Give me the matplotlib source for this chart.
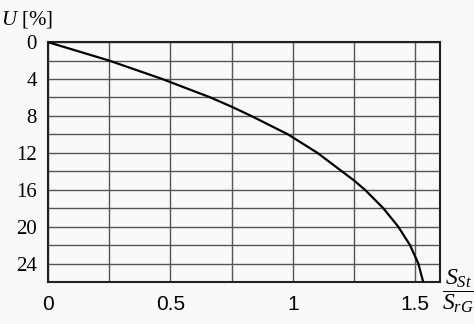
import matplotlib
matplotlib.use('Agg')
import matplotlib.pyplot as plt

# values
ratio = [0, 0.25, 0.467, 0.664, 0.75, 0.83, 0.98, 1.1, 1.2, 1.25,
         1.294, 1.369, 1.43, 1.478, 1.512, 1.532]
voltage = [0, 2, 4, 6, 7.0, 8, 10, 12, 14, 15.0,
           16, 18, 20, 22, 24, 26]

x_ticks = [0, 0.5, 1, 1.5]
x_labels = ['0', '0.5', '1', '1.5']
y_ticks = [0, 4, 8, 12, 16, 20, 24]

plt.rcParams['mathtext.fontset'] = 'custom'
plt.rcParams['mathtext.rm'] = 'Liberation Serif'
plt.rcParams['mathtext.it'] = 'Liberation Serif:italic'

bg = '#f9f9f9'
fig = plt.figure(figsize=(4.74, 3.24), dpi=100, facecolor=bg)
ax = fig.add_axes([0.101, 0.1296, 0.827, 0.7404], facecolor=bg)

ax.plot(ratio, voltage, color='black', lw=1.6, zorder=3,
        solid_joinstyle='round')

ax.set_xlim(0, 1.6)
ax.set_ylim(26, 0)

# grid every 0.25 and every 2 %
ax.set_xticks([i * 0.25 for i in range(7)], minor=True)
ax.set_yticks(list(range(0, 27, 2)), minor=True)
ax.set_xticks(x_ticks)
ax.set_xticklabels(x_labels, family='Liberation Sans', fontsize=15)
ax.set_yticks(y_ticks)
ax.set_yticklabels([str(v) for v in y_ticks], family='Liberation Serif', fontsize=15)
ax.grid(True, which='both', color='#555555', lw=1.0)
ax.tick_params(which='both', length=0)
ax.tick_params(axis='x', pad=9)
ax.tick_params(axis='y', pad=8)

for s in ax.spines.values():
    s.set_color('#222222')
    s.set_linewidth(1.5)

fig.text(0.002, 0.94, '$U$ [%]', family='Liberation Serif', fontsize=15,
         ha='left', va='center')
fig.text(0.966, 0.102, r'$\dfrac{S_{St}}{S_{rG}}$', fontsize=17, ha='center', va='center')

fig.savefig('out.png', dpi=100, facecolor=bg)
